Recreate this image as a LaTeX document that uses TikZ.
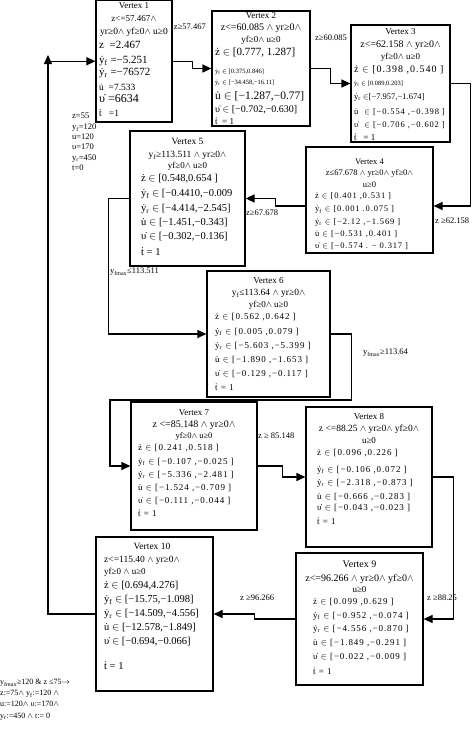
\documentclass[tikz,border=0pt]{standalone}
\usepackage{fontspec}
\setmainfont{Liberation Serif}
\usetikzlibrary{arrows.meta}
\newcommand\fs[1]{\fontsize{#1}{#1}\selectfont}
\newcommand\xin{$\in$}
\newcommand\xand{$\wedge$}
\newcommand\Zd{\.z}
\newcommand\Yf{\.y\textsubscript{f}}
\newcommand\Yr{\.y\textsubscript{r}}
\newcommand\Ud{\.u}
\newcommand\Vd{\.{υ}}
\newcommand\Td{\.t}
\newcommand\ls{\addfontfeatures{LetterSpace=10}}
\tikzset{
  vtx/.style={draw, line width=1.2pt, inner sep=0pt, fill=white},
  tx/.style={inner sep=0pt, text height=1.5ex, text depth=0.3ex},
  conn/.style={line width=1.2pt},
  arr/.style={conn, -{Triangle[length=9pt,width=8pt]}},
  lbl/.style={inner sep=0pt, font=\fs{8.5}}
}
\begin{document}
\begin{tikzpicture}[x=1pt,y=-1pt]
\useasboundingbox (0,0) rectangle (474,737);
% boxes
\node[vtx, minimum width=76pt,  minimum height=121.5pt] (v1)  at (134,61.25) {};
\node[vtx, minimum width=98pt,  minimum height=115pt]   (v2)  at (261,68.5) {};
\node[vtx, minimum width=99pt,  minimum height=117pt]   (v3)  at (400.5,83.5) {};
\node[vtx, minimum width=127pt, minimum height=106pt]   (v4)  at (369.5,200) {};
\node[vtx, minimum width=115pt, minimum height=135pt]   (v5)  at (187.5,198.5) {};
\node[vtx, minimum width=123pt, minimum height=126pt]   (v6)  at (268.5,334) {};
\node[vtx, minimum width=126pt, minimum height=128pt]   (v7)  at (194,466) {};
\node[vtx, minimum width=126pt, minimum height=140pt]   (v8)  at (369,477) {};
\node[vtx, minimum width=127pt, minimum height=132pt]   (v9)  at (359.5,619) {};
\node[vtx, minimum width=117pt, minimum height=154pt]   (v10) at (154.5,614) {};
% connectors
\coordinate (top) at (48,55);
\coordinate (j) at (top |- v1.west);
\coordinate (b67) at (110,400);
\draw[arr] (v1.east) -- ++(20,0) |- (v2.west);
\draw[arr] (v2.east) -- ++(20,0) |- (v3.west);
\draw[arr] (v3.east) -- ++(20,0) |- ([yshift=-6pt]v4.east);
\draw[arr] ([yshift=-6pt]v4.west) -- ++(-30,0) |- (v5.east);
\draw[arr] (v5.west) -- ++(-21,0) |- (v6.west);
\draw[arr] (v6.east) -- ++(21,0) |- (b67) |- (v7.west);
\draw[arr] (v7.east) -- ++(25,0) |- (v8.west);
\draw[arr] (v8.east) -- ++(21,0) |- (v9.east);
\draw[arr] (v9.west) -- ++(-41,0) |- (v10.east);
\draw[arr] (v10.west) -| (top);
\draw[arr] (j) -- (v1.west);
% connector labels
\node[lbl, anchor=east] (l12) at (206,27) {z≥57.467};
\node[lbl] (l23) at (331,38) {z≥60.085};
\node[lbl, anchor=west] (l34) at (435,221) {z ≥62.158};
\node[lbl, anchor=west] (l45) at (246,213) {z≥67.678};
\node[lbl, anchor=west] (l56) at (110,272) {y\textsubscript{fmax}≤113.511};
\node[lbl, anchor=west] (l67) at (363,353) {y\textsubscript{fmax}≥113.64};
\node[lbl, anchor=west] (l78) at (258,436) {z ≥ 85.148};
\node[lbl, anchor=west] (l89) at (427,598) {z ≥88.25};
\node[lbl, anchor=west] (l910) at (240,598) {z ≥96.266};
% initial values
\foreach \txt/\yy [count=\i] in {{z=55}/116, {y\textsubscript{f}=120}/127, {u=120}/137, {υ=170}/147, {y\textsubscript{r}=450}/158, {t=0}/168}
  \node[tx, anchor=west, font=\fs{8.5}] (ini\i) at (72,\yy) {\txt};
\foreach \txt/\yy [count=\i] in {{y\textsubscript{fmax}≥120 \& z ≤75$\rightarrow$}/682, {z:=75\xand\ y\textsubscript{f}:=120 \xand}/693, {u:=120\xand\ υ:=170\xand}/704, {y\textsubscript{r}:=450 \xand\ t:= 0}/716}
  \node[tx, anchor=west, font=\fs{8}] (rst\i) at (0,\yy) {\txt};
% Vertex 1
\foreach \txt/\yy/\sz [count=\i] in {{Vertex 1}/6/9, {z<=57.467\xand}/19/9, {yr≥0\xand\ yf≥0\xand\ u≥0}/32/9.5}
  \node[tx, font=\fs{\sz}] (h1-\i) at (134,\yy) {\txt};
\foreach \txt/\yy/\sz [count=\i] in {{z\ \ =2.467}/46/11, {\Yf\ =−5.251}/61/11, {\Yr\ =−76572}/73/11, {\Ud\ \ =7.533}/88/9.5, {\Vd\ =6634}/100/12, {\Td\ \ \ =1}/114/9.5}
  \node[tx, anchor=west, font=\fs{\sz}] (d1-\i) at (99,\yy) {\txt};
% Vertex 2
\foreach \txt/\yy/\sz [count=\i] in {{Vertex 2}/16/9, {z<=60.085 \xand\ yr≥0\xand}/28/10, {yf≥0\xand\ u≥0}/40/9}
  \node[tx, font=\fs{\sz}] (h2-\i) at (261,\yy) {\txt};
\foreach \txt/\yy/\sz [count=\i] in {{\Zd\ \xin\ [0.777,\ 1.287]}/53/11, {\Yf\ \xin\ [0.375,0.846]}/71/6.5, {\Yr\ \xin\ [−34.458,−16.11]}/82/6.5, {\Ud\ \xin\ [−1.287,−0.77]}/97/11.5, {\Vd\ \xin\ [−0.702,−0.630]}/110/10, {\Td\ \ =\ 1}/122/9}
  \node[tx, anchor=west, font=\fs{\sz}] (d2-\i) at (215,\yy) {\txt};
% Vertex 3
\foreach \txt/\yy/\sz [count=\i] in {{Vertex 3}/32/9, {z<=62.158 \xand\ yr≥0\xand}/45/10, {yf≥0\xand\ u≥0}/57/9}
  \node[tx, font=\fs{\sz}] (h3-\i) at (400.5,\yy) {\txt};
\foreach \txt/\yy/\sz [count=\i] in {{\ls\Zd\ \xin\ [0.398 ,0.540 ]}/70/10, {\Yf\ \xin\ [0.089,0.203]}/83/6.5, {\Yr\ \xin[−7.957,−1.674]}/97/8.5, {\ls\Ud\ \ \xin\ [−0.554 ,−0.398 ]}/112/8.5, {\ls\Vd\ \ \xin\ [−0.706 ,−0.602 ]}/125/8.5, {\Td\ \ \ =\ 1}/138/9}
  \node[tx, anchor=west, font=\fs{\sz}] (d3-\i) at (354,\yy) {\txt};
% Vertex 4
\foreach \txt/\yy/\sz [count=\i] in {{Vertex 4}/162/8.5, {z≤67.678 \xand\ yr≥0\xand\ yf≥0\xand}/173/8.5, {u≥0}/185/8.5}
  \node[tx, font=\fs{\sz}] (h4-\i) at (369.5,\yy) {\txt};
\foreach \txt/\yy/\sz [count=\i] in {{\Zd\ \xin\ [0.401 ,0.531 ]}/196/8.5, {\Yf\ \xin\ [0.001 .0.075 ]}/209/8.5, {\Yr\ \xin\ [−2.12 ,−1.569 ]}/222/8.5, {\Ud\ \xin\ [−0.531 ,0.401 ]}/234/8.5, {\Vd\ \xin\ [−0.574 . − 0.317 ]}/246/8.5}
  \node[tx, anchor=west, font=\fs{\sz}\ls] (d4-\i) at (315,\yy) {\txt};
% Vertex 5
\foreach \txt/\yy/\sz [count=\i] in {{Vertex 5}/142/9.5, {y\textsubscript{f}≥113.511 \xand\ yr≥0\xand}/155/9.5, {yf≥0\xand\ u≥0}/166/9}
  \node[tx, font=\fs{\sz}] (h5-\i) at (187.5,\yy) {\txt};
\foreach \txt/\yy/\sz [count=\i] in {{\Zd\ \xin\ [0.548,0.654 ]}/179/10.5, {\Yf\ \xin\ [−0.4410,−0.009}/194/10.5, {\Yr\ \xin\ [−4.414,−2.545]}/209/10.5, {\Ud\ \xin\ [−1.451,−0.343]}/223/10.5, {\Vd\ \xin\ [−0.302,−0.136]}/237/10.5, {\Td\ =\ 1}/253/10.5}
  \node[tx, anchor=west, font=\fs{\sz}] (d5-\i) at (141,\yy) {\txt};
% Vertex 6
\foreach \txt/\yy/\sz [count=\i] in {{Vertex 6}/281/9, {y\textsubscript{f}≤113.64 \xand\ yr≥0\xand}/293/9.5, {yf≥0\xand\ u≥0}/305/9}
  \node[tx, font=\fs{\sz}] (h6-\i) at (268.5,\yy) {\txt};
\foreach \txt/\yy/\sz [count=\i] in {{\Zd\ \xin\ [0.562 ,0.642 ]}/317/9, {\Yf\ \xin\ [0.005 ,0.079 ]}/332/9, {\Yr\ \xin\ [−5.603 ,−5.399 ]}/346/9, {\Ud\ \xin\ [−1.890 ,−1.653 ]}/360/9, {\Vd\ \xin\ [−0.129 ,−0.117 ]}/374/9, {\Td\ =\ 1}/388/9}
  \node[tx, anchor=west, font=\fs{\sz}\ls] (d6-\i) at (215,\yy) {\txt};
% Vertex 7
\foreach \txt/\yy/\sz [count=\i] in {{Vertex 7}/413/9, {z <=85.148 \xand\ yr≥0\xand}/425/10, {yf≥0\xand\ u≥0}/436/8.5}
  \node[tx, font=\fs{\sz}] (h7-\i) at (194,\yy) {\txt};
\foreach \txt/\yy/\sz [count=\i] in {{\Zd\ \xin\ [0.241 ,0.518 ]}/448/9, {\Yf\ \xin\ [−0.107 ,−0.025 ]}/462/9, {\Yr\ \xin\ [−5.336 ,−2.481 ]}/475/9, {\Ud\ \xin\ [−1.524 ,−0.709 ]}/488/9, {\Vd\ \xin\ [−0.111 ,−0.044 ]}/501/9, {\Td\ =\ 1}/514/9}
  \node[tx, anchor=west, font=\fs{\sz}\ls] (d7-\i) at (138,\yy) {\txt};
% Vertex 8
\foreach \txt/\yy/\sz [count=\i] in {{Vertex 8}/417/9, {z <=88.25 \xand\ yr≥0\xand\ yf≥0\xand}/429/9.5, {u≥0}/441/9}
  \node[tx, font=\fs{\sz}] (h8-\i) at (369,\yy) {\txt};
\foreach \txt/\yy/\sz [count=\i] in {{\Zd\ \xin\ [0.096 ,0.226 ]}/453/9, {\Yf\ \xin\ [−0.106 ,0.072 ]}/470/9, {\Yr\ \xin\ [−2.318 ,−0.873 ]}/483/9, {\Ud\ \xin\ [−0.666 ,−0.283 ]}/497/9, {\Vd\ \xin\ [−0.043 ,−0.023 ]}/508/9, {\Td\ =\ 1}/522/9}
  \node[tx, anchor=west, font=\fs{\sz}\ls] (d8-\i) at (317,\yy) {\txt};
% Vertex 9
\foreach \txt/\yy/\sz [count=\i] in {{Vertex 9}/565/10, {z<=96.266 \xand\ yr≥0\xand\ yf≥0\xand}/579/10, {u≥0}/590/9}
  \node[tx, font=\fs{\sz}] (h9-\i) at (359.5,\yy) {\txt};
\foreach \txt/\yy/\sz [count=\i] in {{\Zd\ \xin\ [0.099 ,0.629 ]}/602/9, {\Yf\ \xin\ [−0.952 ,−0.074 ]}/616/9, {\Yr\ \xin\ [−4.556 ,−0.870 ]}/629/9, {\Ud\ \xin\ [−1.849 ,−0.291 ]}/643/9, {\Vd\ \xin\ [−0.022 ,−0.009 ]}/657/9, {\Td\ =\ 1}/672/9}
  \node[tx, anchor=west, font=\fs{\sz}\ls] (d9-\i) at (313,\yy) {\txt};
% Vertex 10
\node[tx, font=\fs{9.5}] (h10-1) at (152,547) {Vertex 10};
\foreach \txt/\yy/\sz [count=\i] in {{z<=115.40 \xand\ yr≥0\xand}/560/9.5, {yf≥0 \xand\ u≥0}/572/9, {\Zd\ \xin\ [0.694,4.276]}/586/10.5, {\Yf\ \xin\ [−15.75,−1.098]}/600/10.5, {\Yr\ \xin\ [−14.509,−4.556]}/614/10.5, {\Ud\ \xin\ [−12.578,−1.849]}/628/10.5, {\Vd\ \xin\ [−0.694,−0.066]}/642/10.5, {\Td\ =\ 1}/667/10.5}
  \node[tx, anchor=west, font=\fs{\sz}] (d10-\i) at (104,\yy) {\txt};
\end{tikzpicture}
\end{document}
